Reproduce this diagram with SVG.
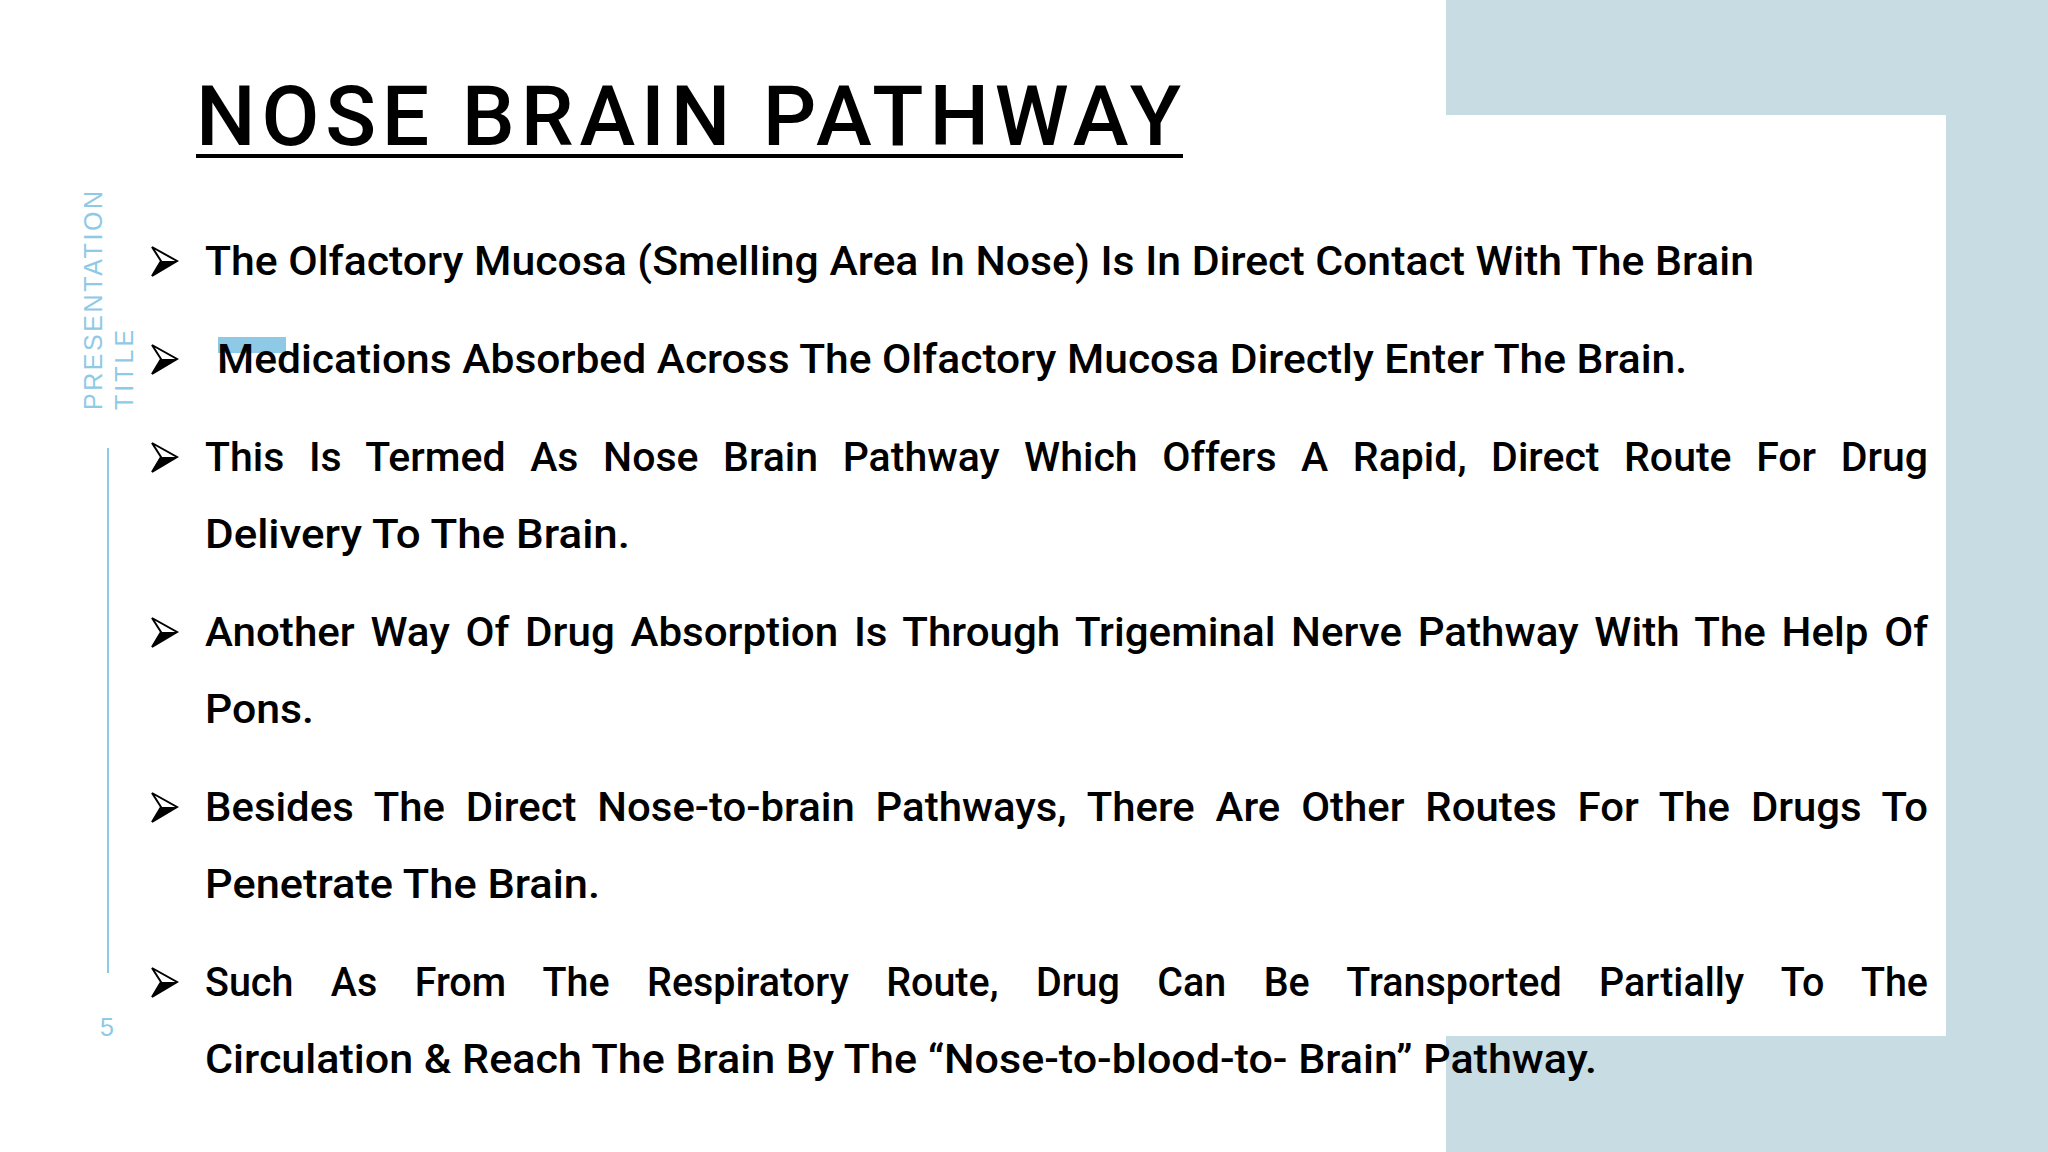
<svg xmlns="http://www.w3.org/2000/svg" width="2048" height="1152" viewBox="0 0 2048 1152">
<defs>
<style>
.t{font-family:Roboto,"Liberation Sans",Arial,sans-serif;font-weight:500;font-size:40px;fill:#000}
.v{font-family:"Liberation Sans",Arial,sans-serif;font-size:25px;fill:#8ecae6;letter-spacing:3px}
</style>
<g id="arr"><polygon points="0,-14 25,0 0,15 9,0" fill="#fff" stroke="#000" stroke-width="2" stroke-linejoin="miter"/><polygon points="9,0 25,0 0,15" fill="#000"/></g>
</defs>
<rect width="2048" height="1152" fill="#fff"/>
<rect x="1446" y="0" width="602" height="1152" fill="#c8dce3"/>
<rect x="0" y="115" width="1946" height="921" fill="#fff"/>
<g id="title">
<text x="196" y="145" font-family="Roboto,Liberation Sans,Arial,sans-serif" font-weight="500" font-size="84" textLength="985" lengthAdjust="spacing" fill="#000">NOSE BRAIN PATHWAY</text>
<rect x="196" y="154" width="987" height="4" fill="#000"/>
</g>
<g id="side">
<text class="v" transform="translate(102,410) rotate(-90)" textLength="222">PRESENTATION</text>
<text class="v" transform="translate(133,410) rotate(-90)">TITLE</text>
<rect x="107" y="448" width="2" height="525" fill="#8ecae6"/>
<text class="v" x="100" y="1036">5</text>
</g>
<g id="bullets">
<use href="#arr" x="152" y="261"/>
<use href="#arr" x="152" y="359"/>
<use href="#arr" x="152" y="457"/>
<use href="#arr" x="152" y="632"/>
<use href="#arr" x="152" y="807"/>
<use href="#arr" x="152" y="982"/>
<rect x="218" y="337" width="68" height="16" fill="#8ecae6"/>
<text class="t" x="205" y="275" textLength="1549" lengthAdjust="spacingAndGlyphs">The Olfactory Mucosa (Smelling Area In Nose) Is In Direct Contact With The Brain</text>
<text class="t" x="217" y="373" textLength="1470" lengthAdjust="spacingAndGlyphs">Medications Absorbed Across The Olfactory Mucosa Directly Enter The Brain.</text>
<text class="t" x="205" y="471" textLength="1723" lengthAdjust="spacingAndGlyphs" word-spacing="14">This Is Termed As Nose Brain Pathway Which Offers A Rapid, Direct Route For Drug</text>
<text class="t" x="205" y="548" textLength="425" lengthAdjust="spacingAndGlyphs">Delivery To The Brain.</text>
<text class="t" x="205" y="646" textLength="1723" lengthAdjust="spacingAndGlyphs" word-spacing="5">Another Way Of Drug Absorption Is Through Trigeminal Nerve Pathway With The Help Of</text>
<text class="t" x="205" y="723" textLength="109" lengthAdjust="spacingAndGlyphs">Pons.</text>
<text class="t" x="205" y="821" textLength="1723" lengthAdjust="spacingAndGlyphs" word-spacing="10">Besides The Direct Nose-to-brain Pathways, There Are Other Routes For The Drugs To</text>
<text class="t" x="205" y="898" textLength="395" lengthAdjust="spacingAndGlyphs">Penetrate The Brain.</text>
<text class="t" x="205" y="996" textLength="1723" lengthAdjust="spacingAndGlyphs" word-spacing="28">Such As From The Respiratory Route, Drug Can Be Transported Partially To The</text>
<text class="t" x="205" y="1073" textLength="1392" lengthAdjust="spacingAndGlyphs">Circulation &amp; Reach The Brain By The “Nose-to-blood-to- Brain” Pathway.</text>
</g>
</svg>
